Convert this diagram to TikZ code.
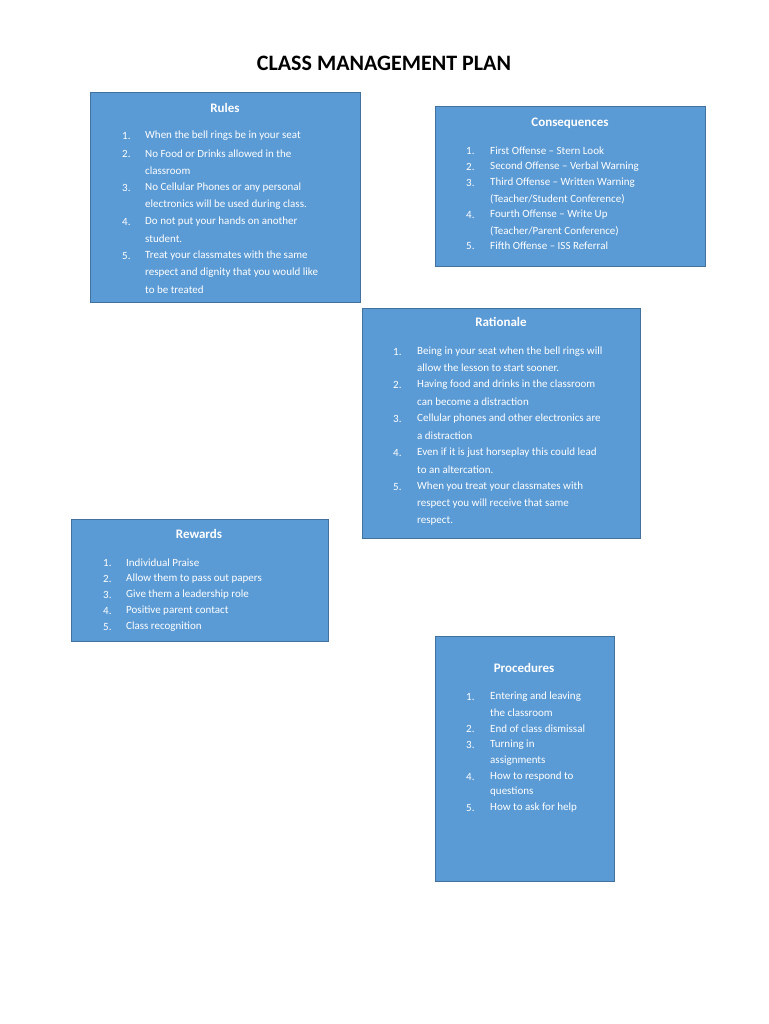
\documentclass[tikz,border=0pt]{standalone}
\usepackage{fontspec}
\setmainfont{Carlito}
\definecolor{boxfill}{HTML}{5B9BD5}
\definecolor{boxline}{HTML}{41719C}
\begin{document}
\begin{tikzpicture}[x=1pt,y=-1pt,
  box/.style={draw=boxline,line width=1pt,fill=boxfill},
  hd/.style={text=white,font=\bfseries\fontsize{13}{15}\selectfont},
  t/.style={text=white,anchor=west,inner sep=0pt,font=\fontsize{11}{13}\selectfont}]
\useasboundingbox (0,0) rectangle (768,1024);
\fill[white] (0,0) rectangle (768,1024);
\node[font=\bfseries\fontsize{22}{26}\selectfont] (title) at (384,63) {CLASS MANAGEMENT PLAN};
% boxes
\draw[box] (90,93) rectangle (360,302);
\draw[box] (435,107) rectangle (705,266);
\draw[box] (362,308) rectangle (640,538);
\draw[box] (71,519) rectangle (328,641);
\draw[box] (435,636) rectangle (614,881);
% headers
\node[hd] (hR) at (225,108) {Rules};
\node[hd] (hC) at (570,123) {Consequences};
\node[hd] (hRa) at (501,322) {Rationale};
\node[hd] (hRw) at (199,534) {Rewards};
\node[hd] (hP) at (524,668) {Procedures};
% Rules
\foreach \n/\y in {1/136,2/154,3/188,4/222,5/256}{\node[t] (rn\n) at (122,\y) {\n.};}
\node[t] (r1) at (145,136) {When the bell rings be in your seat};
\node[t] (r2) at (145,154) {No Food or Drinks allowed in the};
\node[t] (r2b) at (145,171) {classroom};
\node[t] (r3) at (145,188) {No Cellular Phones or any personal};
\node[t] (r3b) at (145,205) {electronics will be used during class.};
\node[t] (r4) at (145,222) {Do not put your hands on another};
\node[t] (r4b) at (145,239) {student.};
\node[t] (r5) at (145,256) {Treat your classmates with the same};
\node[t] (r5b) at (145,273) {respect and dignity that you would like};
\node[t] (r5c) at (145,290) {to be treated};
% Consequences
\foreach \n/\y in {1/151,2/167,3/183,4/215,5/246}{\node[t] (cn\n) at (466,\y) {\n.};}
\node[t] (c1) at (490,151) {First Offense – Stern Look};
\node[t] (c2) at (490,167) {Second Offense – Verbal Warning};
\node[t] (c3) at (490,183) {Third Offense – Written Warning};
\node[t] (c3b) at (490,199) {(Teacher/Student Conference)};
\node[t] (c4) at (490,215) {Fourth Offense – Write Up};
\node[t] (c4b) at (490,231) {(Teacher/Parent Conference)};
\node[t] (c5) at (490,246) {Fifth Offense – ISS Referral};
% Rationale
\foreach \n/\y in {1/352,2/385,3/419,4/453,5/487}{\node[t] (an\n) at (393,\y) {\n.};}
\node[t] (a1) at (417,352) {Being in your seat when the bell rings will};
\node[t] (a1b) at (417,368) {allow the lesson to start sooner.};
\node[t] (a2) at (417,385) {Having food and drinks in the classroom};
\node[t] (a2b) at (417,402) {can become a distraction};
\node[t] (a3) at (417,419) {Cellular phones and other electronics are};
\node[t] (a3b) at (417,436) {a distraction};
\node[t] (a4) at (417,453) {Even if it is just horseplay this could lead};
\node[t] (a4b) at (417,470) {to an altercation.};
\node[t] (a5) at (417,487) {When you treat your classmates with};
\node[t] (a5b) at (417,504) {respect you will receive that same};
\node[t] (a5c) at (417,521) {respect.};
% Rewards
\foreach \n/\y in {1/563,2/579,3/595,4/611,5/627}{\node[t] (wn\n) at (103,\y) {\n.};}
\node[t] (w1) at (126,563) {Individual Praise};
\node[t] (w2) at (126,579) {Allow them to pass out papers};
\node[t] (w3) at (126,595) {Give them a leadership role};
\node[t] (w4) at (126,611) {Positive parent contact};
\node[t] (w5) at (126,627) {Class recognition};
% Procedures
\foreach \n/\y in {1/697,2/729,3/745,4/777,5/808}{\node[t] (pn\n) at (466,\y) {\n.};}
\node[t] (p1) at (490,697) {Entering and leaving};
\node[t] (p1b) at (490,713) {the classroom};
\node[t] (p2) at (490,729) {End of class dismissal};
\node[t] (p3) at (490,745) {Turning in};
\node[t] (p3b) at (490,761) {assignments};
\node[t] (p4) at (490,777) {How to respond to};
\node[t] (p4b) at (490,792) {questions};
\node[t] (p5) at (490,808) {How to ask for help};
\end{tikzpicture}
\end{document}
